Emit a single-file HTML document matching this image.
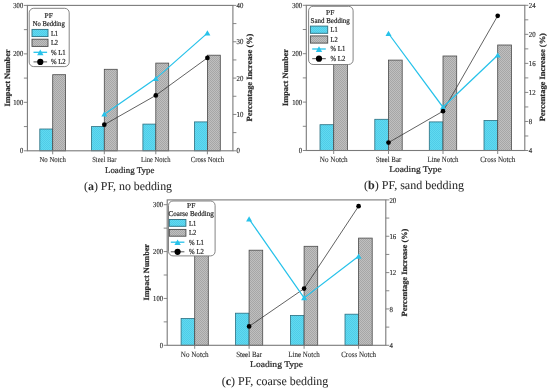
<!DOCTYPE html>
<html><head><meta charset="utf-8"><title>PF impact figure</title>
<style>
html,body{margin:0;padding:0;background:#fff;}
body{width:550px;height:391px;overflow:hidden;}
svg{display:block;}
text.tk{stroke-width:.16px;fill:#2a2a2a;stroke:#2a2a2a;}
text.cl{stroke-width:.1px;}
text{text-rendering:geometricPrecision;font-family:"Liberation Serif","Times New Roman",serif;fill:#2a2a2a;stroke:#2a2a2a;stroke-width:.22px;}
</style></head><body>
<svg width="550" height="391" viewBox="0 0 550 391">
<defs>
<pattern id="pc" width="2" height="2" patternUnits="userSpaceOnUse"><rect width="2" height="2" fill="#60dbf0"/><rect width="1" height="1" fill="#50cbe8"/><rect x="1" y="1" width="1" height="1" fill="#50cbe8"/></pattern>
<pattern id="pg" width="2" height="2" patternUnits="userSpaceOnUse"><rect width="2" height="2" fill="#bfbfbf"/><rect width="1" height="1" fill="#a6a6a6"/><rect x="1" y="1" width="1" height="1" fill="#a6a6a6"/></pattern>
</defs>
<rect width="550" height="391" fill="#fff"/>
<rect x="39.8" y="129" width="12.9" height="21.8" fill="url(#pc)" stroke="#2b6f80" stroke-width=".8"/>
<rect x="52.7" y="74.7" width="12.9" height="76.1" fill="url(#pg)" stroke="#4a4a4a" stroke-width=".8"/>
<rect x="91.4" y="126.6" width="12.9" height="24.2" fill="url(#pc)" stroke="#2b6f80" stroke-width=".8"/>
<rect x="104.3" y="69.3" width="12.9" height="81.5" fill="url(#pg)" stroke="#4a4a4a" stroke-width=".8"/>
<rect x="142.9" y="124.1" width="12.9" height="26.7" fill="url(#pc)" stroke="#2b6f80" stroke-width=".8"/>
<rect x="155.8" y="63.1" width="12.9" height="87.7" fill="url(#pg)" stroke="#4a4a4a" stroke-width=".8"/>
<rect x="194.5" y="121.9" width="12.9" height="28.9" fill="url(#pc)" stroke="#2b6f80" stroke-width=".8"/>
<rect x="207.4" y="55.2" width="12.9" height="95.6" fill="url(#pg)" stroke="#4a4a4a" stroke-width=".8"/>
<polyline points="104.3,124.7 155.8,95.4 207.4,57.9" fill="none" stroke="#3a3a3a" stroke-width=".8"/>
<polyline points="104.3,114.2 155.8,78.6 207.4,33.1" fill="none" stroke="#27c2ea" stroke-width="1.25"/>
<path d="M104.3 111.4L107.3 116.6L101.3 116.6Z" fill="#27c2ea"/>
<path d="M155.8 75.8L158.8 81L152.8 81Z" fill="#27c2ea"/>
<path d="M207.4 30.3L210.4 35.5L204.4 35.5Z" fill="#27c2ea"/>
<circle cx="104.3" cy="124.7" r="2.35" fill="#000"/>
<circle cx="155.8" cy="95.4" r="2.35" fill="#000"/>
<circle cx="207.4" cy="57.9" r="2.35" fill="#000"/>
<rect x="27.4" y="5.4" width="205.5" height="145.4" fill="none" stroke="#7a7a7a" stroke-width="1.1"/>
<line x1="23.9" y1="150.8" x2="27.4" y2="150.8" stroke="#7a7a7a" stroke-width=".9"/>
<text x="23.2" y="153.4" font-size="7.6" text-anchor="end" textLength="3.3" lengthAdjust="spacingAndGlyphs" class="tk">0</text>
<line x1="23.9" y1="126.57" x2="27.4" y2="126.57" stroke="#7a7a7a" stroke-width=".9"/>
<line x1="23.9" y1="102.33" x2="27.4" y2="102.33" stroke="#7a7a7a" stroke-width=".9"/>
<text x="23.2" y="104.93" font-size="7.6" text-anchor="end" textLength="9.9" lengthAdjust="spacingAndGlyphs" class="tk">100</text>
<line x1="23.9" y1="78.1" x2="27.4" y2="78.1" stroke="#7a7a7a" stroke-width=".9"/>
<line x1="23.9" y1="53.87" x2="27.4" y2="53.87" stroke="#7a7a7a" stroke-width=".9"/>
<text x="23.2" y="56.47" font-size="7.6" text-anchor="end" textLength="9.9" lengthAdjust="spacingAndGlyphs" class="tk">200</text>
<line x1="23.9" y1="29.63" x2="27.4" y2="29.63" stroke="#7a7a7a" stroke-width=".9"/>
<line x1="23.9" y1="5.4" x2="27.4" y2="5.4" stroke="#7a7a7a" stroke-width=".9"/>
<text x="23.2" y="8" font-size="7.6" text-anchor="end" textLength="9.9" lengthAdjust="spacingAndGlyphs" class="tk">300</text>
<line x1="232.9" y1="150.8" x2="236.4" y2="150.8" stroke="#7a7a7a" stroke-width=".9"/>
<text x="236.5" y="153.4" font-size="7.6" text-anchor="start" textLength="3.4" lengthAdjust="spacingAndGlyphs" class="tk">0</text>
<line x1="232.9" y1="132.62" x2="236.4" y2="132.62" stroke="#7a7a7a" stroke-width=".9"/>
<line x1="232.9" y1="114.45" x2="236.4" y2="114.45" stroke="#7a7a7a" stroke-width=".9"/>
<text x="236.5" y="117.05" font-size="7.6" text-anchor="start" textLength="6.8" lengthAdjust="spacingAndGlyphs" class="tk">10</text>
<line x1="232.9" y1="96.28" x2="236.4" y2="96.28" stroke="#7a7a7a" stroke-width=".9"/>
<line x1="232.9" y1="78.1" x2="236.4" y2="78.1" stroke="#7a7a7a" stroke-width=".9"/>
<text x="236.5" y="80.7" font-size="7.6" text-anchor="start" textLength="6.8" lengthAdjust="spacingAndGlyphs" class="tk">20</text>
<line x1="232.9" y1="59.93" x2="236.4" y2="59.93" stroke="#7a7a7a" stroke-width=".9"/>
<line x1="232.9" y1="41.75" x2="236.4" y2="41.75" stroke="#7a7a7a" stroke-width=".9"/>
<text x="236.5" y="44.35" font-size="7.6" text-anchor="start" textLength="6.8" lengthAdjust="spacingAndGlyphs" class="tk">30</text>
<line x1="232.9" y1="23.58" x2="236.4" y2="23.58" stroke="#7a7a7a" stroke-width=".9"/>
<line x1="232.9" y1="5.4" x2="236.4" y2="5.4" stroke="#7a7a7a" stroke-width=".9"/>
<text x="236.5" y="8" font-size="7.6" text-anchor="start" textLength="6.8" lengthAdjust="spacingAndGlyphs" class="tk">40</text>
<line x1="52.7" y1="150.8" x2="52.7" y2="154.3" stroke="#7a7a7a" stroke-width=".9"/>
<text x="52.7" y="161.9" font-size="7.7" text-anchor="middle" textLength="26.5" lengthAdjust="spacingAndGlyphs" class="cl">No Notch</text>
<line x1="104.3" y1="150.8" x2="104.3" y2="154.3" stroke="#7a7a7a" stroke-width=".9"/>
<text x="104.3" y="161.9" font-size="7.7" text-anchor="middle" textLength="24.2" lengthAdjust="spacingAndGlyphs" class="cl">Steel Bar</text>
<line x1="155.8" y1="150.8" x2="155.8" y2="154.3" stroke="#7a7a7a" stroke-width=".9"/>
<text x="155.8" y="161.9" font-size="7.7" text-anchor="middle" textLength="29.4" lengthAdjust="spacingAndGlyphs" class="cl">Line Notch</text>
<line x1="207.4" y1="150.8" x2="207.4" y2="154.3" stroke="#7a7a7a" stroke-width=".9"/>
<text x="207.4" y="161.9" font-size="7.7" text-anchor="middle" textLength="33.3" lengthAdjust="spacingAndGlyphs" class="cl">Cross Notch</text>
<text x="129.7" y="172.7" font-size="8.7" text-anchor="middle" textLength="49.5" lengthAdjust="spacingAndGlyphs">Loading Type</text>
<text x="9.7" y="77.9" font-size="8" text-anchor="middle" font-weight="bold" textLength="57" lengthAdjust="spacingAndGlyphs" transform="rotate(-90 9.7 77.9)">Impact Number</text>
<text x="252.4" y="77.5" font-size="8" text-anchor="middle" font-weight="bold" textLength="87.8" lengthAdjust="spacingAndGlyphs" transform="rotate(-90 252.4 77.5)">Percentage Increase (%)</text>
<rect x="29.2" y="8.3" width="40" height="58.3" rx="4.5" fill="#fff" stroke="#767676" stroke-width=".9"/>
<text x="48.7" y="18.1" font-size="7.4" text-anchor="middle">PF</text>
<text x="48.7" y="25.5" font-size="7.4" text-anchor="middle" textLength="32" lengthAdjust="spacingAndGlyphs">No Bedding</text>
<rect x="32" y="29.4" width="16" height="7.2" fill="url(#pc)" stroke="#2b6f80" stroke-width=".9"/>
<rect x="32" y="39.2" width="16" height="7.2" fill="url(#pg)" stroke="#4a4a4a" stroke-width=".9"/>
<text x="50.9" y="35.7" font-size="7.6" text-anchor="start" textLength="7.2" lengthAdjust="spacingAndGlyphs">L1</text>
<text x="50.9" y="44.9" font-size="7.6" text-anchor="start" textLength="7.2" lengthAdjust="spacingAndGlyphs">L2</text>
<line x1="33.5" y1="52.3" x2="47.1" y2="52.3" stroke="#27c2ea" stroke-width="1.3"/>
<path d="M40.3 49.6L43.5 55.2L37.1 55.2Z" fill="#27c2ea"/>
<text x="50.9" y="54.8" font-size="7.6" text-anchor="start" textLength="14.8" lengthAdjust="spacingAndGlyphs">% L1</text>
<line x1="33.5" y1="61.9" x2="47.1" y2="61.9" stroke="#555" stroke-width="1"/>
<circle cx="40.3" cy="61.9" r="3.1" fill="#000"/>
<text x="50.9" y="64.3" font-size="7.6" text-anchor="start" textLength="14.8" lengthAdjust="spacingAndGlyphs">% L2</text>
<text x="128" y="189.5" font-size="12" style="stroke-width:.05px" text-anchor="middle" textLength="88" lengthAdjust="spacingAndGlyphs">(<tspan font-weight="bold">a</tspan>) PF, no bedding</text>
<rect x="320" y="124.7" width="13.7" height="25.8" fill="url(#pc)" stroke="#2b6f80" stroke-width=".8"/>
<rect x="333.7" y="60" width="13.7" height="90.5" fill="url(#pg)" stroke="#4a4a4a" stroke-width=".8"/>
<rect x="374.8" y="119.3" width="13.7" height="31.2" fill="url(#pc)" stroke="#2b6f80" stroke-width=".8"/>
<rect x="388.5" y="60.1" width="13.7" height="90.4" fill="url(#pg)" stroke="#4a4a4a" stroke-width=".8"/>
<rect x="429.3" y="121.9" width="13.7" height="28.6" fill="url(#pc)" stroke="#2b6f80" stroke-width=".8"/>
<rect x="443" y="56" width="13.7" height="94.5" fill="url(#pg)" stroke="#4a4a4a" stroke-width=".8"/>
<rect x="484" y="120.4" width="13.7" height="30.1" fill="url(#pc)" stroke="#2b6f80" stroke-width=".8"/>
<rect x="497.7" y="45" width="13.7" height="105.5" fill="url(#pg)" stroke="#4a4a4a" stroke-width=".8"/>
<polyline points="388.5,142.6 443,111.2 497.7,15.8" fill="none" stroke="#3a3a3a" stroke-width=".8"/>
<polyline points="388.5,33.5 443,107.2 497.7,55.2" fill="none" stroke="#27c2ea" stroke-width="1.25"/>
<path d="M388.5 30.7L391.5 35.9L385.5 35.9Z" fill="#27c2ea"/>
<path d="M443 104.4L446 109.6L440 109.6Z" fill="#27c2ea"/>
<path d="M497.7 52.4L500.7 57.6L494.7 57.6Z" fill="#27c2ea"/>
<circle cx="388.5" cy="142.6" r="2.35" fill="#000"/>
<circle cx="443" cy="111.2" r="2.35" fill="#000"/>
<circle cx="497.7" cy="15.8" r="2.35" fill="#000"/>
<rect x="306.3" y="5.3" width="218.5" height="145.2" fill="none" stroke="#7a7a7a" stroke-width="1.1"/>
<line x1="302.8" y1="150.5" x2="306.3" y2="150.5" stroke="#7a7a7a" stroke-width=".9"/>
<text x="302.1" y="153.1" font-size="7.6" text-anchor="end" textLength="3.3" lengthAdjust="spacingAndGlyphs" class="tk">0</text>
<line x1="302.8" y1="126.3" x2="306.3" y2="126.3" stroke="#7a7a7a" stroke-width=".9"/>
<line x1="302.8" y1="102.1" x2="306.3" y2="102.1" stroke="#7a7a7a" stroke-width=".9"/>
<text x="302.1" y="104.7" font-size="7.6" text-anchor="end" textLength="9.9" lengthAdjust="spacingAndGlyphs" class="tk">100</text>
<line x1="302.8" y1="77.9" x2="306.3" y2="77.9" stroke="#7a7a7a" stroke-width=".9"/>
<line x1="302.8" y1="53.7" x2="306.3" y2="53.7" stroke="#7a7a7a" stroke-width=".9"/>
<text x="302.1" y="56.3" font-size="7.6" text-anchor="end" textLength="9.9" lengthAdjust="spacingAndGlyphs" class="tk">200</text>
<line x1="302.8" y1="29.5" x2="306.3" y2="29.5" stroke="#7a7a7a" stroke-width=".9"/>
<line x1="302.8" y1="5.3" x2="306.3" y2="5.3" stroke="#7a7a7a" stroke-width=".9"/>
<text x="302.1" y="7.9" font-size="7.6" text-anchor="end" textLength="9.9" lengthAdjust="spacingAndGlyphs" class="tk">300</text>
<line x1="524.8" y1="150.5" x2="528.3" y2="150.5" stroke="#7a7a7a" stroke-width=".9"/>
<text x="528.8" y="153.1" font-size="7.6" text-anchor="start" textLength="3.4" lengthAdjust="spacingAndGlyphs" class="tk">4</text>
<line x1="524.8" y1="135.98" x2="528.3" y2="135.98" stroke="#7a7a7a" stroke-width=".9"/>
<line x1="524.8" y1="121.46" x2="528.3" y2="121.46" stroke="#7a7a7a" stroke-width=".9"/>
<text x="528.8" y="124.06" font-size="7.6" text-anchor="start" textLength="3.4" lengthAdjust="spacingAndGlyphs" class="tk">8</text>
<line x1="524.8" y1="106.94" x2="528.3" y2="106.94" stroke="#7a7a7a" stroke-width=".9"/>
<line x1="524.8" y1="92.42" x2="528.3" y2="92.42" stroke="#7a7a7a" stroke-width=".9"/>
<text x="528.8" y="95.02" font-size="7.6" text-anchor="start" textLength="6.8" lengthAdjust="spacingAndGlyphs" class="tk">12</text>
<line x1="524.8" y1="77.9" x2="528.3" y2="77.9" stroke="#7a7a7a" stroke-width=".9"/>
<line x1="524.8" y1="63.38" x2="528.3" y2="63.38" stroke="#7a7a7a" stroke-width=".9"/>
<text x="528.8" y="65.98" font-size="7.6" text-anchor="start" textLength="6.8" lengthAdjust="spacingAndGlyphs" class="tk">16</text>
<line x1="524.8" y1="48.86" x2="528.3" y2="48.86" stroke="#7a7a7a" stroke-width=".9"/>
<line x1="524.8" y1="34.34" x2="528.3" y2="34.34" stroke="#7a7a7a" stroke-width=".9"/>
<text x="528.8" y="36.94" font-size="7.6" text-anchor="start" textLength="6.8" lengthAdjust="spacingAndGlyphs" class="tk">20</text>
<line x1="524.8" y1="19.82" x2="528.3" y2="19.82" stroke="#7a7a7a" stroke-width=".9"/>
<line x1="524.8" y1="5.3" x2="528.3" y2="5.3" stroke="#7a7a7a" stroke-width=".9"/>
<text x="528.8" y="7.9" font-size="7.6" text-anchor="start" textLength="6.8" lengthAdjust="spacingAndGlyphs" class="tk">24</text>
<line x1="333.7" y1="150.5" x2="333.7" y2="154" stroke="#7a7a7a" stroke-width=".9"/>
<text x="333.7" y="161.6" font-size="8" text-anchor="middle" textLength="27.9" lengthAdjust="spacingAndGlyphs" class="cl">No Notch</text>
<line x1="388.5" y1="150.5" x2="388.5" y2="154" stroke="#7a7a7a" stroke-width=".9"/>
<text x="388.5" y="161.6" font-size="8" text-anchor="middle" textLength="25.5" lengthAdjust="spacingAndGlyphs" class="cl">Steel Bar</text>
<line x1="443" y1="150.5" x2="443" y2="154" stroke="#7a7a7a" stroke-width=".9"/>
<text x="443" y="161.6" font-size="8" text-anchor="middle" textLength="31" lengthAdjust="spacingAndGlyphs" class="cl">Line Notch</text>
<line x1="497.7" y1="150.5" x2="497.7" y2="154" stroke="#7a7a7a" stroke-width=".9"/>
<text x="497.7" y="161.6" font-size="8" text-anchor="middle" textLength="35.1" lengthAdjust="spacingAndGlyphs" class="cl">Cross Notch</text>
<text x="415.4" y="171.9" font-size="8.7" text-anchor="middle" textLength="52.5" lengthAdjust="spacingAndGlyphs">Loading Type</text>
<text x="288" y="77.5" font-size="8" text-anchor="middle" font-weight="bold" textLength="57" lengthAdjust="spacingAndGlyphs" transform="rotate(-90 288 77.5)">Impact Number</text>
<text x="545.1" y="77.2" font-size="8" text-anchor="middle" font-weight="bold" textLength="88.2" lengthAdjust="spacingAndGlyphs" transform="rotate(-90 545.1 77.2)">Percentage Increase (%)</text>
<rect x="308.6" y="6.3" width="44.5" height="58.2" rx="4.5" fill="#fff" stroke="#767676" stroke-width=".9"/>
<text x="330.2" y="15" font-size="7.4" text-anchor="middle">PF</text>
<text x="330.2" y="22.8" font-size="7.4" text-anchor="middle" textLength="39.2" lengthAdjust="spacingAndGlyphs">Sand Bedding</text>
<rect x="310.4" y="26.1" width="17.3" height="7.2" fill="url(#pc)" stroke="#2b6f80" stroke-width=".9"/>
<rect x="310.4" y="35.9" width="17.3" height="7.2" fill="url(#pg)" stroke="#4a4a4a" stroke-width=".9"/>
<text x="330.5" y="31.9" font-size="7.6" text-anchor="start" textLength="7.2" lengthAdjust="spacingAndGlyphs">L1</text>
<text x="330.5" y="41.7" font-size="7.6" text-anchor="start" textLength="7.2" lengthAdjust="spacingAndGlyphs">L2</text>
<line x1="312.2" y1="49" x2="325.8" y2="49" stroke="#27c2ea" stroke-width="1.3"/>
<path d="M319 46.3L322.2 51.9L315.8 51.9Z" fill="#27c2ea"/>
<text x="330.5" y="51.4" font-size="7.6" text-anchor="start" textLength="14.8" lengthAdjust="spacingAndGlyphs">% L1</text>
<line x1="312.2" y1="58.7" x2="325.8" y2="58.7" stroke="#555" stroke-width="1"/>
<circle cx="319" cy="58.7" r="3.1" fill="#000"/>
<text x="330.5" y="60.8" font-size="7.6" text-anchor="start" textLength="14.8" lengthAdjust="spacingAndGlyphs">% L2</text>
<text x="414" y="189.1" font-size="12" style="stroke-width:.05px" text-anchor="middle" textLength="100" lengthAdjust="spacingAndGlyphs">(<tspan font-weight="bold">b</tspan>) PF, sand bedding</text>
<rect x="181.1" y="318.5" width="13.6" height="26.8" fill="url(#pc)" stroke="#2b6f80" stroke-width=".8"/>
<rect x="194.7" y="255.5" width="13.6" height="89.8" fill="url(#pg)" stroke="#4a4a4a" stroke-width=".8"/>
<rect x="235.5" y="313.2" width="13.6" height="32.1" fill="url(#pc)" stroke="#2b6f80" stroke-width=".8"/>
<rect x="249.1" y="250.2" width="13.6" height="95.1" fill="url(#pg)" stroke="#4a4a4a" stroke-width=".8"/>
<rect x="290.5" y="315.4" width="13.6" height="29.9" fill="url(#pc)" stroke="#2b6f80" stroke-width=".8"/>
<rect x="304.1" y="246.3" width="13.6" height="99" fill="url(#pg)" stroke="#4a4a4a" stroke-width=".8"/>
<rect x="345" y="314.2" width="13.6" height="31.1" fill="url(#pc)" stroke="#2b6f80" stroke-width=".8"/>
<rect x="358.6" y="238.1" width="13.6" height="107.2" fill="url(#pg)" stroke="#4a4a4a" stroke-width=".8"/>
<polyline points="249.1,326.4 304.1,288.6 358.6,206.2" fill="none" stroke="#3a3a3a" stroke-width=".8"/>
<polyline points="249.1,219.1 304.1,297.9 358.6,256.3" fill="none" stroke="#27c2ea" stroke-width="1.25"/>
<path d="M249.1 216.3L252.1 221.5L246.1 221.5Z" fill="#27c2ea"/>
<path d="M304.1 295.1L307.1 300.3L301.1 300.3Z" fill="#27c2ea"/>
<path d="M358.6 253.5L361.6 258.7L355.6 258.7Z" fill="#27c2ea"/>
<circle cx="249.1" cy="326.4" r="2.35" fill="#000"/>
<circle cx="304.1" cy="288.6" r="2.35" fill="#000"/>
<circle cx="358.6" cy="206.2" r="2.35" fill="#000"/>
<rect x="167.2" y="199.9" width="218.6" height="145.4" fill="none" stroke="#7a7a7a" stroke-width="1.1"/>
<line x1="163.7" y1="345.3" x2="167.2" y2="345.3" stroke="#7a7a7a" stroke-width=".9"/>
<text x="163" y="347.9" font-size="7.6" text-anchor="end" textLength="3.3" lengthAdjust="spacingAndGlyphs" class="tk">0</text>
<line x1="163.7" y1="321.87" x2="167.2" y2="321.87" stroke="#7a7a7a" stroke-width=".9"/>
<line x1="163.7" y1="298.43" x2="167.2" y2="298.43" stroke="#7a7a7a" stroke-width=".9"/>
<text x="163" y="301.03" font-size="7.6" text-anchor="end" textLength="9.9" lengthAdjust="spacingAndGlyphs" class="tk">100</text>
<line x1="163.7" y1="275" x2="167.2" y2="275" stroke="#7a7a7a" stroke-width=".9"/>
<line x1="163.7" y1="251.57" x2="167.2" y2="251.57" stroke="#7a7a7a" stroke-width=".9"/>
<text x="163" y="254.17" font-size="7.6" text-anchor="end" textLength="9.9" lengthAdjust="spacingAndGlyphs" class="tk">200</text>
<line x1="163.7" y1="228.13" x2="167.2" y2="228.13" stroke="#7a7a7a" stroke-width=".9"/>
<line x1="163.7" y1="204.7" x2="167.2" y2="204.7" stroke="#7a7a7a" stroke-width=".9"/>
<text x="163" y="207.3" font-size="7.6" text-anchor="end" textLength="9.9" lengthAdjust="spacingAndGlyphs" class="tk">300</text>
<line x1="385.8" y1="345.3" x2="389.3" y2="345.3" stroke="#7a7a7a" stroke-width=".9"/>
<text x="389.4" y="347.9" font-size="7.6" text-anchor="start" textLength="3.4" lengthAdjust="spacingAndGlyphs" class="tk">4</text>
<line x1="385.8" y1="327.12" x2="389.3" y2="327.12" stroke="#7a7a7a" stroke-width=".9"/>
<line x1="385.8" y1="308.95" x2="389.3" y2="308.95" stroke="#7a7a7a" stroke-width=".9"/>
<text x="389.4" y="311.55" font-size="7.6" text-anchor="start" textLength="3.4" lengthAdjust="spacingAndGlyphs" class="tk">8</text>
<line x1="385.8" y1="290.77" x2="389.3" y2="290.77" stroke="#7a7a7a" stroke-width=".9"/>
<line x1="385.8" y1="272.6" x2="389.3" y2="272.6" stroke="#7a7a7a" stroke-width=".9"/>
<text x="389.4" y="275.2" font-size="7.6" text-anchor="start" textLength="6.8" lengthAdjust="spacingAndGlyphs" class="tk">12</text>
<line x1="385.8" y1="254.43" x2="389.3" y2="254.43" stroke="#7a7a7a" stroke-width=".9"/>
<line x1="385.8" y1="236.25" x2="389.3" y2="236.25" stroke="#7a7a7a" stroke-width=".9"/>
<text x="389.4" y="238.85" font-size="7.6" text-anchor="start" textLength="6.8" lengthAdjust="spacingAndGlyphs" class="tk">16</text>
<line x1="385.8" y1="218.07" x2="389.3" y2="218.07" stroke="#7a7a7a" stroke-width=".9"/>
<line x1="385.8" y1="199.9" x2="389.3" y2="199.9" stroke="#7a7a7a" stroke-width=".9"/>
<text x="389.4" y="202.5" font-size="7.6" text-anchor="start" textLength="6.8" lengthAdjust="spacingAndGlyphs" class="tk">20</text>
<line x1="194.7" y1="345.3" x2="194.7" y2="348.8" stroke="#7a7a7a" stroke-width=".9"/>
<text x="194.7" y="357.1" font-size="8" text-anchor="middle" textLength="27.8" lengthAdjust="spacingAndGlyphs" class="cl">No Notch</text>
<line x1="249.1" y1="345.3" x2="249.1" y2="348.8" stroke="#7a7a7a" stroke-width=".9"/>
<text x="249.1" y="357.1" font-size="8" text-anchor="middle" textLength="25.8" lengthAdjust="spacingAndGlyphs" class="cl">Steel Bar</text>
<line x1="304.1" y1="345.3" x2="304.1" y2="348.8" stroke="#7a7a7a" stroke-width=".9"/>
<text x="304.1" y="357.1" font-size="8" text-anchor="middle" textLength="31.5" lengthAdjust="spacingAndGlyphs" class="cl">Line Notch</text>
<line x1="358.6" y1="345.3" x2="358.6" y2="348.8" stroke="#7a7a7a" stroke-width=".9"/>
<text x="358.6" y="357.1" font-size="8" text-anchor="middle" textLength="34.9" lengthAdjust="spacingAndGlyphs" class="cl">Cross Notch</text>
<text x="276.6" y="367" font-size="8.7" text-anchor="middle" textLength="53" lengthAdjust="spacingAndGlyphs">Loading Type</text>
<text x="148.7" y="272.2" font-size="8" text-anchor="middle" font-weight="bold" textLength="56.5" lengthAdjust="spacingAndGlyphs" transform="rotate(-90 148.7 272.2)">Impact Number</text>
<text x="406.5" y="272.5" font-size="8" text-anchor="middle" font-weight="bold" textLength="87.8" lengthAdjust="spacingAndGlyphs" transform="rotate(-90 406.5 272.5)">Percentage Increase (%)</text>
<rect x="168.5" y="201" width="46.6" height="54.9" rx="4.5" fill="#fff" stroke="#767676" stroke-width=".9"/>
<text x="191.2" y="208" font-size="7.4" text-anchor="middle">PF</text>
<text x="191.2" y="216" font-size="7.4" text-anchor="middle" textLength="45.2" lengthAdjust="spacingAndGlyphs">Coarse Bedding</text>
<rect x="169.3" y="219.5" width="16.6" height="6.8" fill="url(#pc)" stroke="#2b6f80" stroke-width=".9"/>
<rect x="169.3" y="229.4" width="16.6" height="6.8" fill="url(#pg)" stroke="#4a4a4a" stroke-width=".9"/>
<text x="189.1" y="225.8" font-size="7.6" text-anchor="start" textLength="7.2" lengthAdjust="spacingAndGlyphs">L1</text>
<text x="189.1" y="235.3" font-size="7.6" text-anchor="start" textLength="7.2" lengthAdjust="spacingAndGlyphs">L2</text>
<line x1="170.8" y1="242.2" x2="184.4" y2="242.2" stroke="#27c2ea" stroke-width="1.3"/>
<path d="M177.6 239.5L180.8 245.1L174.4 245.1Z" fill="#27c2ea"/>
<text x="189.1" y="244.8" font-size="7.6" text-anchor="start" textLength="14.8" lengthAdjust="spacingAndGlyphs">% L1</text>
<line x1="170.8" y1="251.8" x2="184.4" y2="251.8" stroke="#555" stroke-width="1"/>
<circle cx="177.6" cy="251.8" r="3.1" fill="#000"/>
<text x="189.1" y="254.3" font-size="7.6" text-anchor="start" textLength="14.8" lengthAdjust="spacingAndGlyphs">% L2</text>
<text x="275" y="384.9" font-size="12" style="stroke-width:.05px" text-anchor="middle" textLength="106.5" lengthAdjust="spacingAndGlyphs">(<tspan font-weight="bold">c</tspan>) PF, coarse bedding</text>
</svg>
</body></html>
